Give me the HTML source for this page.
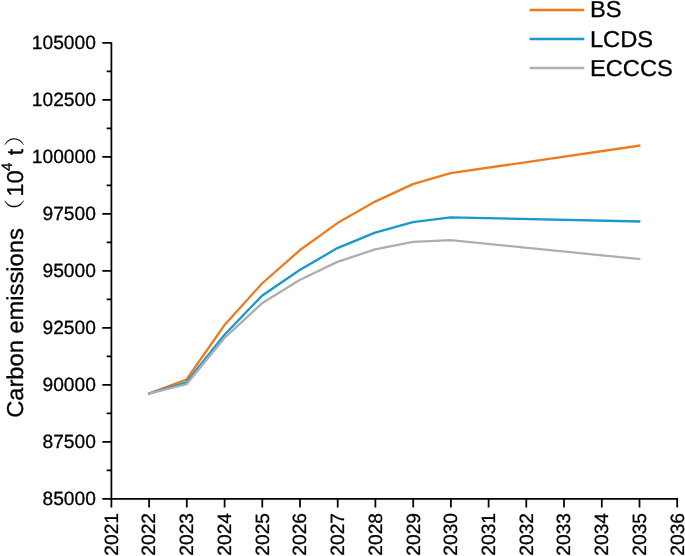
<!DOCTYPE html>
<html><head><meta charset="utf-8"><title>Carbon emissions</title>
<style>
html,body{margin:0;padding:0;background:#fff;}
body{width:685px;height:556px;overflow:hidden;}
svg{display:block;}
text{font-family:"Liberation Sans","Noto Sans CJK SC",sans-serif;fill:#000;stroke:#000;stroke-width:0.3px;text-rendering:geometricPrecision;}
.t{font-size:19.2px;}
.l{font-size:23px;}
.p{font-family:"Noto Serif CJK SC","Noto Sans CJK SC",serif;font-weight:300;font-size:20.6px;stroke:none;}
</style></head><body>
<svg width="685" height="556" viewBox="0 0 685 556">
<rect width="685" height="556" fill="#fff"/>
<polyline fill="none" stroke="#EE7A1E" stroke-width="2.3" stroke-linejoin="round" points="148.1,393.9 186.5,379.5 224.3,325.3 262.0,283.5 299.7,250.3 337.4,223.1 375.1,201.6 412.9,184.1 450.6,173.2 640.4,145.5"/>
<polyline fill="none" stroke="#1B97CF" stroke-width="2.3" stroke-linejoin="round" points="148.1,393.9 186.5,382.3 224.3,335.0 262.0,295.7 299.7,270.0 337.4,248.1 375.1,232.6 412.9,222.1 450.6,217.3 640.4,221.5"/>
<polyline fill="none" stroke="#AEAEAE" stroke-width="2.3" stroke-linejoin="round" points="148.1,393.9 186.5,384.2 224.3,338.2 262.0,303.3 299.7,280.0 337.4,261.9 375.1,249.4 412.9,241.9 450.6,240.2 640.4,259.2"/>
<g stroke="#000" stroke-width="1.75" fill="none">
<path d="M111.4 42.2V499.775"/>
<path d="M110.525 498.9H678.0749999999999"/>
<path d="M102.3 498.9H111.4M102.3 441.9H111.4M102.3 384.9H111.4M102.3 327.9H111.4M102.3 270.9H111.4M102.3 213.9H111.4M102.3 156.9H111.4M102.3 99.9H111.4M102.3 42.9H111.4M106.7 470.4H111.4M106.7 413.4H111.4M106.7 356.4H111.4M106.7 299.4H111.4M106.7 242.4H111.4M106.7 185.4H111.4M106.7 128.4H111.4M106.7 71.4H111.4M111.4 498.9V507.6M149.1 498.9V507.6M186.8 498.9V507.6M224.6 498.9V507.6M262.3 498.9V507.6M300.0 498.9V507.6M337.7 498.9V507.6M375.4 498.9V507.6M413.2 498.9V507.6M450.9 498.9V507.6M488.6 498.9V507.6M526.3 498.9V507.6M564.0 498.9V507.6M601.8 498.9V507.6M639.5 498.9V507.6M677.2 498.9V507.6"/>
</g>
<text class="t" x="95.9" y="505.0" text-anchor="end">85000</text>
<text class="t" x="95.9" y="448.0" text-anchor="end">87500</text>
<text class="t" x="95.9" y="391.0" text-anchor="end">90000</text>
<text class="t" x="95.9" y="334.0" text-anchor="end">92500</text>
<text class="t" x="95.9" y="277.0" text-anchor="end">95000</text>
<text class="t" x="95.9" y="220.0" text-anchor="end">97500</text>
<text class="t" x="95.9" y="163.0" text-anchor="end">100000</text>
<text class="t" x="95.9" y="106.0" text-anchor="end">102500</text>
<text class="t" x="95.9" y="49.0" text-anchor="end">105000</text>
<text class="t" transform="translate(117.7 513.0) rotate(-90)" text-anchor="end">2021</text>
<text class="t" transform="translate(155.4 513.0) rotate(-90)" text-anchor="end">2022</text>
<text class="t" transform="translate(193.1 513.0) rotate(-90)" text-anchor="end">2023</text>
<text class="t" transform="translate(230.9 513.0) rotate(-90)" text-anchor="end">2024</text>
<text class="t" transform="translate(268.6 513.0) rotate(-90)" text-anchor="end">2025</text>
<text class="t" transform="translate(306.3 513.0) rotate(-90)" text-anchor="end">2026</text>
<text class="t" transform="translate(344.0 513.0) rotate(-90)" text-anchor="end">2027</text>
<text class="t" transform="translate(381.7 513.0) rotate(-90)" text-anchor="end">2028</text>
<text class="t" transform="translate(419.5 513.0) rotate(-90)" text-anchor="end">2029</text>
<text class="t" transform="translate(457.2 513.0) rotate(-90)" text-anchor="end">2030</text>
<text class="t" transform="translate(494.9 513.0) rotate(-90)" text-anchor="end">2031</text>
<text class="t" transform="translate(532.6 513.0) rotate(-90)" text-anchor="end">2032</text>
<text class="t" transform="translate(570.3 513.0) rotate(-90)" text-anchor="end">2033</text>
<text class="t" transform="translate(608.1 513.0) rotate(-90)" text-anchor="end">2034</text>
<text class="t" transform="translate(645.8 513.0) rotate(-90)" text-anchor="end">2035</text>
<text class="t" transform="translate(683.5 513.0) rotate(-90)" text-anchor="end">2036</text>
<g transform="translate(22.7 0) rotate(-90)">
<text class="l" x="-417.85" y="0" textLength="189.6" lengthAdjust="spacingAndGlyphs">Carbon emissions</text>
<text class="p" transform="translate(-222.97 -1.05) scale(1.17 1)">（</text>
<text class="l" x="-196.8" y="0" textLength="26.36" lengthAdjust="spacingAndGlyphs">10</text>
<text x="-171.05" y="-10.9" style="font-size:15px">4</text>
<text class="l" x="-155.35" y="0">t</text>
<text class="p" transform="translate(-146.59 -1.05) scale(1.17 1)">）</text>
</g>
<path d="M529.6 10.0H584.3" stroke="#EE7A1E" stroke-width="2.3" fill="none"/>
<text class="l" x="589.9" y="17.4" textLength="31.61" lengthAdjust="spacingAndGlyphs">BS</text>
<path d="M529.6 39.0H584.3" stroke="#1B97CF" stroke-width="2.3" fill="none"/>
<text class="l" x="589.9" y="46.6" textLength="63.20" lengthAdjust="spacingAndGlyphs">LCDS</text>
<path d="M529.6 68.0H584.3" stroke="#AEAEAE" stroke-width="2.3" fill="none"/>
<text class="l" x="589.9" y="76.0" textLength="82.94" lengthAdjust="spacingAndGlyphs">ECCCS</text>
</svg>
</body></html>
